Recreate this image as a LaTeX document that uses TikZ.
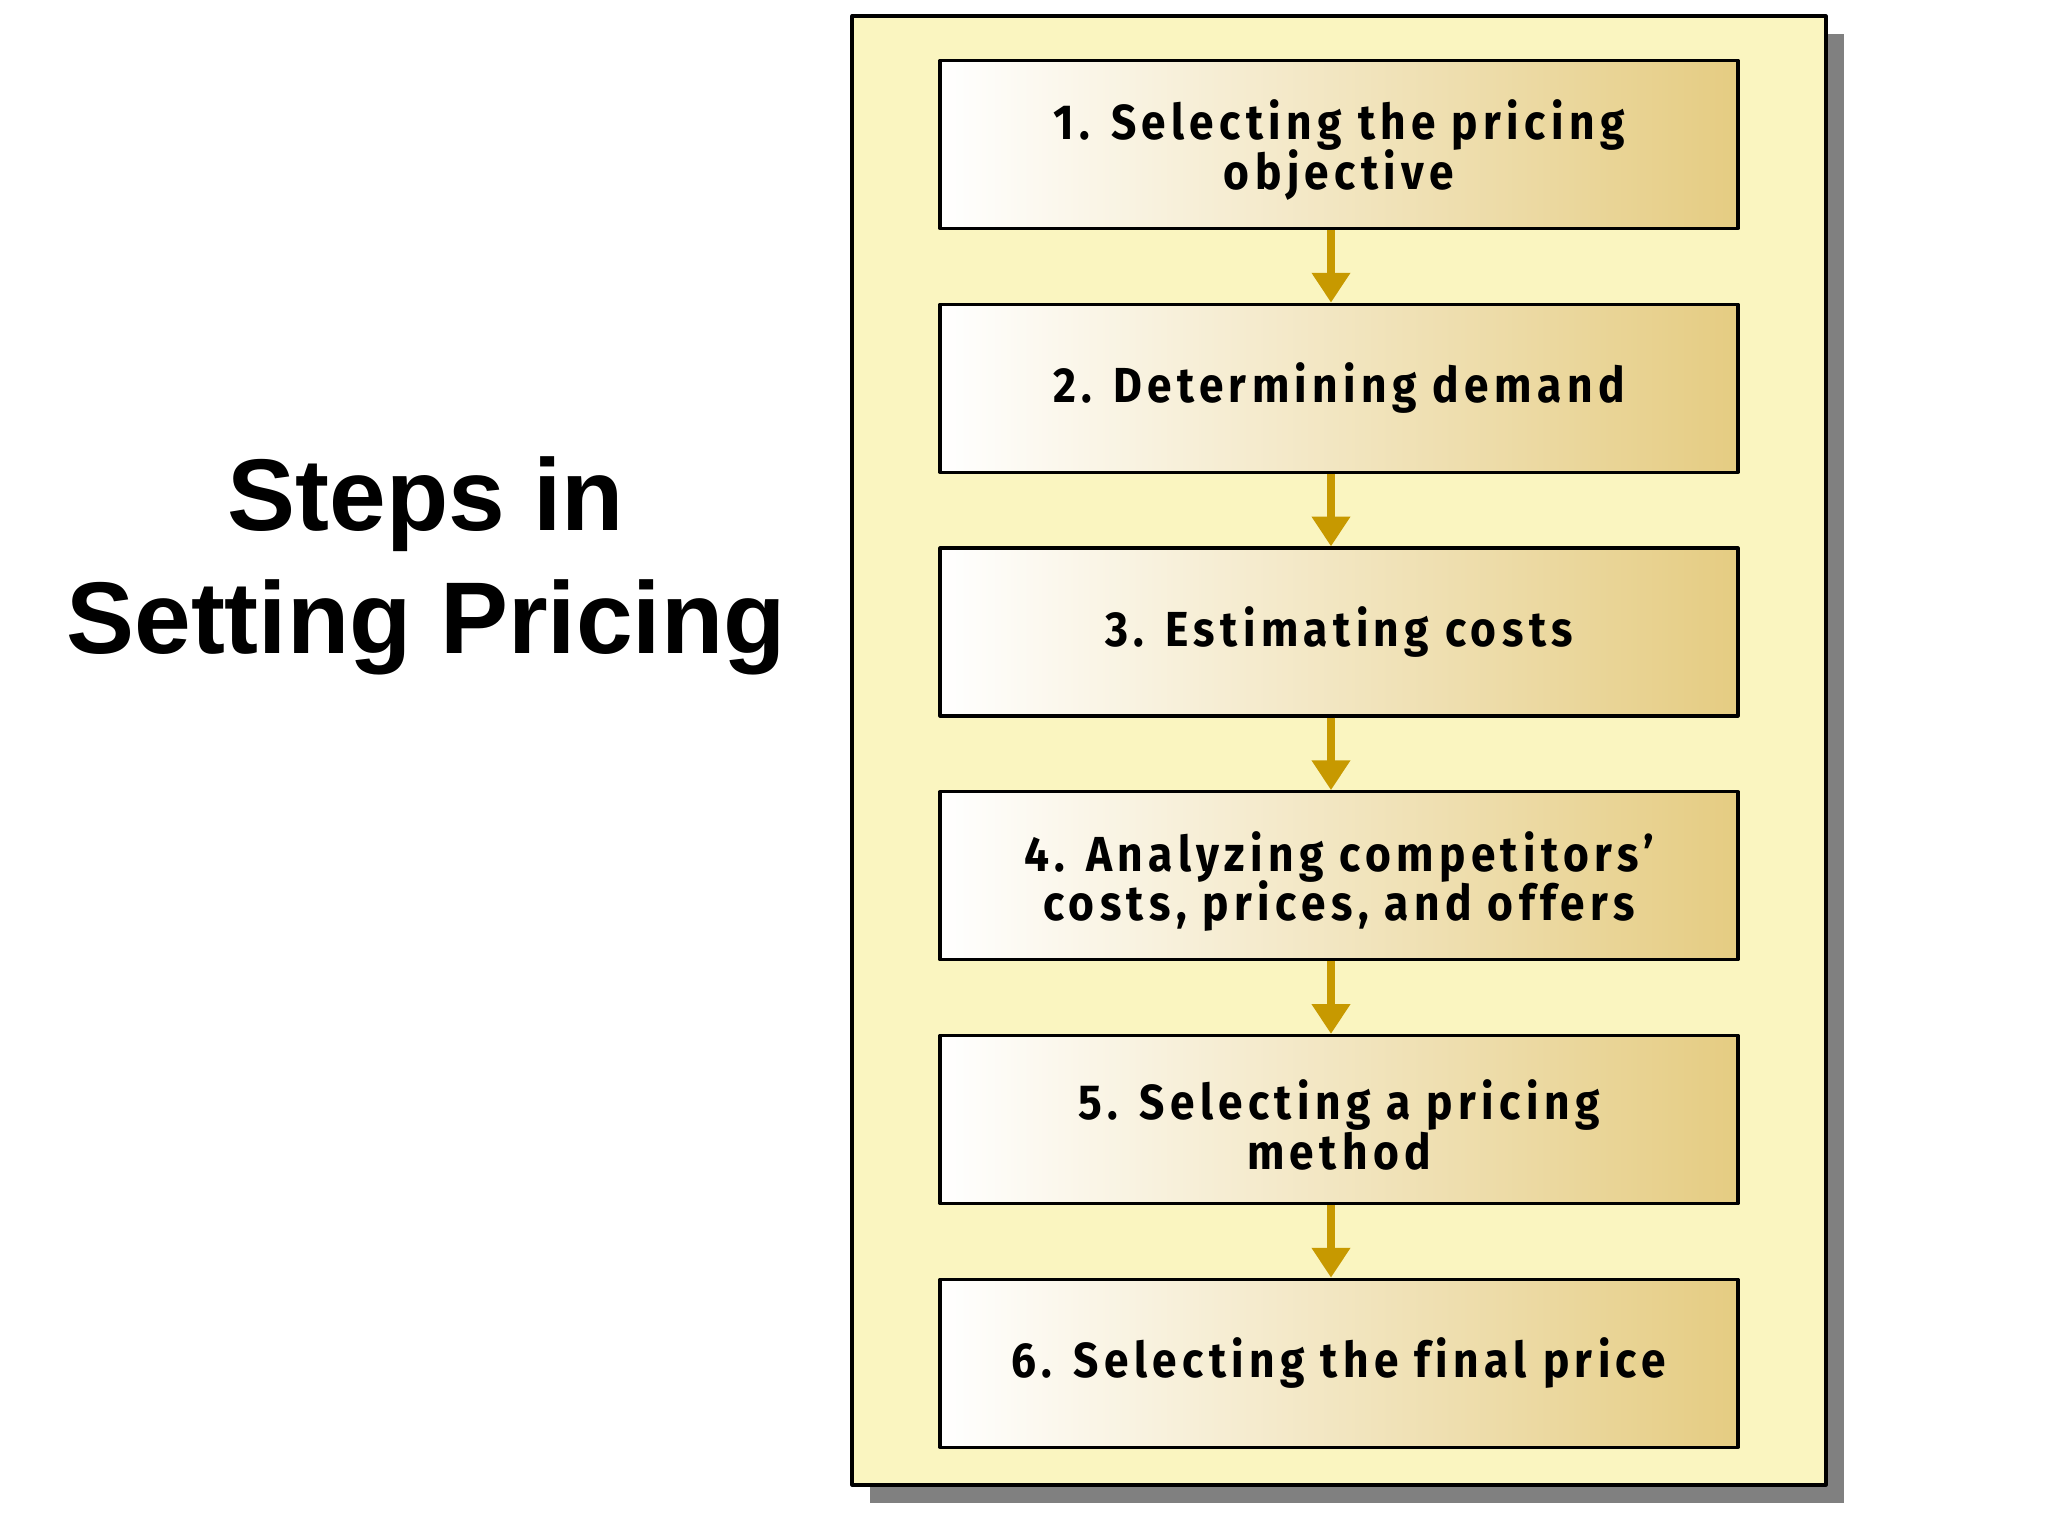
\documentclass[tikz,border=0pt]{standalone}
\usepackage{fontspec}
\setmainfont{Liberation Sans}
\newfontfamily\stepfont[LetterSpace=11,FakeStretch=0.9,Ligatures=NoCommon]{Fira Sans}
\usetikzlibrary{positioning,arrows.meta}
\definecolor{panelyellow}{RGB}{250,245,192}
\definecolor{stepgold}{RGB}{229,204,130}
\definecolor{arrowgold}{RGB}{199,153,0}
\definecolor{shadowgray}{RGB}{128,128,128}
\newcommand{\toprule}{\rule{0pt}{14.5pt}}
\newcommand{\tightlines}{\lineskiplimit=-6pt\relax}
\begin{document}
\begin{tikzpicture}[line join=round, >=stealth,
	stepbox/.style={draw=black, line width=0.9pt, left color=white, right color=stepgold,
		minimum width=7.98cm, minimum height=1.68cm, inner sep=0pt, align=center,
		font=\stepfont\bfseries\fontsize{14}{14}\selectfont\tightlines},
	steparrow/.style={draw=arrowgold, line width=2.2pt, -{Triangle[width=10.5pt,length=8.5pt]}},
	node distance=0.726cm]
	\useasboundingbox (0,0) rectangle (20.48,15.36);
	% panel with its shadow
	\fill[shadowgray] (8.70,0.33) rectangle (18.44,15.02);
	\draw[fill=panelyellow, line width=0.9pt] (8.52,0.51) rectangle (18.26,15.20);
	\node[font=\bfseries\fontsize{29}{34.8}\selectfont, align=center] (title) at (4.26,9.70)
		{Steps in\\Setting Pricing};
	% the six steps
	\node[stepbox] (s1) at (13.39,13.915) {\toprule1. Selecting the pricing\\objective};
	\node[stepbox, below=of s1] (s2) {2. Determining demand};
	\node[stepbox, below=of s2] (s3) {3. Estimating costs};
	\node[stepbox, below=of s3] (s4) {\toprule4. Analyzing competitors’\\costs, prices, and offers};
	\node[stepbox, below=of s4] (s5) {\toprule5. Selecting a pricing\\method};
	\node[stepbox, below=of s5] (s6) {6. Selecting the final price};
	\foreach \a/\b in {s1/s2,s2/s3,s3/s4,s4/s5,s5/s6}
		\draw[steparrow] ([xshift=-0.08cm]\a.south) -- ([xshift=-0.08cm]\b.north);
\end{tikzpicture}
\end{document}
